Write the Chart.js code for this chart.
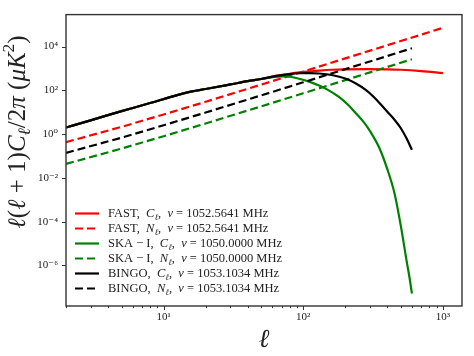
<!DOCTYPE html>
<html><head><meta charset="utf-8">
<script src="https://cdn.jsdelivr.net/npm/chart.js@4"></script>
<style>html,body{margin:0;padding:0;background:#fff}#wrap{width:474px;height:356px}</style>
</head><body><div id="wrap"><canvas id="c" width="474" height="356"></canvas></div>
<script>
// ---- data ----
const surveys = ["FAST", "SKA \u2212 I", "BINGO"];
const freqs = ["1052.5641", "1050.0000", "1053.1034"];

const ellFastC = [2,3,5,8,12,16,20,30,40,50,64,80,95,130,160,200,280,400,500,700,1000];
const fastC    = [2.0,4.27,11.2,26.3,56.2,89.1,115,186,263,331,457,575,661,794,871,912,933,912,871,759,617];

const ellFastN = [2,5,10,20,50,100,200,500,1000];
const fastN    = [0.43,2.15,7.9,30,183,723,2880,17940,71700];

const ellSkaC  = [2,3,5,8,12,16,20,30,40,50,60,70,80,95,110,130,150,180,210,240,270,300,350,400,450,500,550,575,600];
const skaC     = [2.0,4.27,11.2,26.3,56.2,89.1,115,186,263,331,398,437,417,331,251,166,105,50.1,21.4,8.51,3.63,1.41,0.24,0.0251,0.002,6.3e-5,1.58e-6,3.16e-7,5.25e-8];

const ellN     = [2,5,10,20,50,100,200,600];
const skaN     = [0.0438,0.219,0.80,3.07,18.6,73.7,293,2630];
const bingoN   = [0.139,0.69,2.54,9.7,58.9,233,929,8330];

const ellBingoC = [2,3,5,8,12,16,20,30,40,50,64,80,95,110,130,160,200,240,280,320,360,400,450,500,550,600];
const bingoC    = [2.0,4.27,11.2,26.3,56.2,89.1,115,186,263,331,457,550,603,617,589,501,347,200,105,50.1,22.4,10.5,4.57,1.86,0.631,0.191];

const xMajorTicks = [10,100,1000];
const xMinorTicks = [2,3,4,5,6,7,8,9,20,30,40,50,60,70,80,90,200,300,400,500,600,700,800,900];
const yMajorTicks = [1e-6,1e-4,1e-2,1,1e2,1e4];

// ---- helpers ----
const SERIF = "'Liberation Serif', 'DejaVu Serif', serif";
const supMap = {'-':'\u207B','0':'\u2070','1':'\u00B9','2':'\u00B2','3':'\u00B3','4':'\u2074','5':'\u2075','6':'\u2076','7':'\u2077','8':'\u2078','9':'\u2079'};
const sup = n => String(n).split('').map(c => supMap[c]).join('');
const pts = (xs, ys) => xs.map((x, i) => ({x: x, y: ys[i]}));

function mk(si, kind, xs, ys, color, order) {
  const dashed = kind === 'N';
  return {
    label: surveys[si] + ', ' + kind + '\u2113, \u03BD = ' + freqs[si] + ' MHz',
    survey: surveys[si], kind: kind, freq: freqs[si],
    data: pts(xs, ys),
    borderColor: color, backgroundColor: color,
    borderWidth: 2.2,
    borderDash: dashed ? [8, 4] : [],
    pointRadius: 0, fill: false,
    cubicInterpolationMode: dashed ? 'default' : 'monotone',
    tension: 0, order: order
  };
}

const datasets = [
  mk(0, 'C', ellFastC, fastC, '#ff0000', 6),
  mk(0, 'N', ellFastN, fastN, '#ff0000', 5),
  mk(1, 'C', ellSkaC, skaC, '#008000', 4),
  mk(1, 'N', ellN, skaN, '#008000', 3),
  mk(2, 'C', ellBingoC, bingoC, '#000000', 2),
  mk(2, 'N', ellN, bingoN, '#000000', 1)
];

function richWidth(ctx, segs, size) {
  let w = 0;
  for (const s of segs) {
    const fs = (s.sub || s.sup) ? size * 0.7 : size;
    ctx.font = (s.it ? 'italic ' : '') + fs + 'px ' + SERIF;
    w += ctx.measureText(s.t).width;
  }
  return w;
}
function drawRich(ctx, x, y, segs, size) {
  ctx.textBaseline = 'middle';
  ctx.textAlign = 'left';
  for (const s of segs) {
    const fs = (s.sub || s.sup) ? size * 0.7 : size;
    ctx.font = (s.it ? 'italic ' : '') + fs + 'px ' + SERIF;
    const dy = s.sub ? size * 0.3 : (s.sup ? -size * 0.35 : 0);
    ctx.fillText(s.t, x, y + dy);
    x += ctx.measureText(s.t).width;
  }
}

const yTitleSegs = [
  {t: '\u2113', it: true}, {t: '('}, {t: '\u2113', it: true}, {t: ' + 1)'},
  {t: 'C', it: true}, {t: '\u2113', it: true, sub: true}, {t: '/2'}, {t: '\u03C0', it: true},
  {t: ' ('}, {t: '\u03BCK', it: true}, {t: '2', sup: true}, {t: ')'}
];

const deco = {
  id: 'deco',
  afterDraw(chart) {
    const ctx = chart.ctx, a = chart.chartArea;
    const xs = chart.scales.x, ys = chart.scales.y;
    ctx.save();
    ctx.strokeStyle = '#333';
    ctx.lineWidth = 1.4;
    ctx.strokeRect(a.left, a.top, a.right - a.left, a.bottom - a.top);
    ctx.lineWidth = 1;
    ctx.beginPath();
    for (const v of xMajorTicks) { const p = Math.round(xs.getPixelForValue(v)) + 0.5; ctx.moveTo(p, a.bottom); ctx.lineTo(p, a.bottom + 4); }
    for (const v of xMinorTicks) { const p = Math.round(xs.getPixelForValue(v)) + 0.5; ctx.moveTo(p, a.bottom); ctx.lineTo(p, a.bottom + 2.2); }
    for (const v of yMajorTicks) { const p = Math.round(ys.getPixelForValue(v)) + 0.5; ctx.moveTo(a.left, p); ctx.lineTo(a.left - 4, p); }
    ctx.stroke();

    // y axis title (rotated, with sub/superscripts)
    ctx.fillStyle = '#222';
    const ts = 25;
    const tw = richWidth(ctx, yTitleSegs, ts);
    ctx.save();
    ctx.translate(18, 132);
    ctx.rotate(-Math.PI / 2);
    drawRich(ctx, -tw / 2, 0, yTitleSegs, ts);
    ctx.restore();

    // legend
    const x0 = 75, x1 = 99, tx = 108, y0 = 213.5, dy = 15;
    chart.data.datasets.forEach((ds, i) => {
      const y = y0 + i * dy;
      ctx.strokeStyle = ds.borderColor;
      ctx.lineWidth = ds.borderWidth;
      ctx.setLineDash(ds.borderDash);
      ctx.beginPath(); ctx.moveTo(x0, y); ctx.lineTo(x1, y); ctx.stroke();
      ctx.setLineDash([]);
      ctx.fillStyle = '#222';
      drawRich(ctx, tx, y, [
        {t: ds.survey + ',  '}, {t: ds.kind, it: true}, {t: '\u2113', it: true, sub: true},
        {t: ',  '}, {t: '\u03BD', it: true}, {t: ' = ' + ds.freq + ' MHz'}
      ], 12.5);
    });
    ctx.restore();
  }
};

new Chart(document.getElementById('c'), {
  type: 'line',
  data: { datasets: datasets },
  options: {
    responsive: false, animation: false, devicePixelRatio: 1,
    layout: { padding: { top: 12, right: 12, left: 0, bottom: 0 } },
    plugins: { legend: { display: false }, tooltip: { enabled: false } },
    scales: {
      x: {
        type: 'logarithmic', min: 2, max: 1370, bounds: 'data',
        afterBuildTicks: s => { s.ticks = xMajorTicks.map(v => ({value: v})); },
        afterFit: s => { s.height = 50; },
        grid: { display: false, drawTicks: false }, border: { display: false },
        ticks: { autoSkip: false, maxRotation: 0, padding: 5, color: '#222',
          font: { family: SERIF, size: 11 },
          callback: v => '10' + sup(Math.round(Math.log10(v))) },
        title: { display: true, text: '\u2113', color: '#222',
          font: { family: SERIF, size: 26, style: 'italic' }, padding: { top: 0, bottom: 0 } }
      },
      y: {
        type: 'logarithmic', min: Math.pow(10, -7.85), max: Math.pow(10, 5.46), bounds: 'data',
        afterBuildTicks: s => { s.ticks = yMajorTicks.map(v => ({value: v})); },
        afterFit: s => { s.width = 66; },
        grid: { display: false, drawTicks: false }, border: { display: false },
        ticks: { autoSkip: false, padding: 8, color: '#222',
          font: { family: SERIF, size: 11 },
          callback: v => '10' + sup(Math.round(Math.log10(v))) },
        title: { display: false, text: '\u2113(\u2113 + 1)C\u2113/2\u03C0 (\u03BCK\u00B2)' }
      }
    }
  },
  plugins: [deco]
});
</script>
</body></html>
